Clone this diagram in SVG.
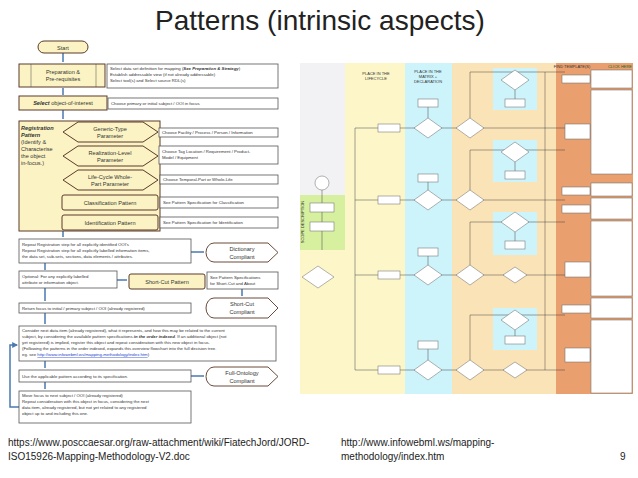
<svg xmlns="http://www.w3.org/2000/svg" width="638" height="478" viewBox="0 0 638 478">
<defs>
<style>
.t{font-family:"Liberation Sans",Arial,sans-serif;fill:#222}
.s{font-family:"Liberation Sans",Arial,sans-serif;font-size:4.3px;fill:#333}
.n{font-family:"Liberation Sans",Arial,sans-serif;font-size:5.6px;fill:#333;text-anchor:middle}
.r{font-family:"Liberation Sans",Arial,sans-serif;font-size:5.6px;fill:#333;text-anchor:start}
.y{fill:#fcf3c4;stroke:#5a3a2a;stroke-width:1}
.w{fill:#fff;stroke:#555;stroke-width:0.8}
.c{fill:#fff;stroke:#6a4a3a;stroke-width:1}
.l{stroke:#4a7ab0;stroke-width:1.5;fill:none}
.k{stroke:#444;stroke-width:0.5;fill:none}
.d{fill:#fff;stroke:#666;stroke-width:0.5}
</style>
<marker id="a" viewBox="0 0 10 10" refX="8" refY="5" markerWidth="4" markerHeight="4" orient="auto"><path d="M0,0L10,5L0,10z" fill="#4a7ab0"/></marker>
</defs>
<rect width="638" height="478" fill="#fff"/>
<text class="t" x="320" y="30" font-size="28" text-anchor="middle">Patterns (intrinsic aspects)</text>

<g id="connectors">
<path class="l" d="M63 53V62M63 88V95M63 110V119M63 231V237M45 263V270M45 288V301M45 313V324M45 361V368M45 382V389M191 252H204M117 280H127M242 289V296M191 376H204M19 407H10V345H17" marker-end="url(#a)"/>
<path class="l" d="M110 142V146M110 166V170M110 190V195M110 210V215"/>
</g>

<g id="start"><rect class="y" x="38" y="41" width="50" height="12" rx="6"/><text class="n" x="63" y="49.5">Start</text></g>
<g id="prep"><rect class="y" x="19" y="64" width="86" height="23"/><path class="k" d="M31 64V87M96 64V87" stroke="#5a3a2a"/><text class="n" x="63" y="74">Preparation &amp;</text><text class="n" x="63" y="81">Pre-requisites</text>
<rect class="w" x="107" y="64" width="171" height="24"/><text class="s" x="110" y="70">Select data set definition for mapping (<tspan font-weight="bold" font-style="italic">See Preparation &amp; Strategy</tspan>)</text><text class="s" x="110" y="76">Establish addressable view (if not already addressable)</text><text class="s" x="110" y="82">Select tool(s) and Select source RDL(s)</text></g>
<g id="select"><rect class="y" x="19" y="96" width="88" height="14"/><text class="n" x="63" y="105"><tspan font-weight="bold" font-style="italic">Select</tspan> object-of-interest</text>
<rect class="w" x="108" y="98" width="170" height="11"/><text class="s" x="111" y="105">Choose primary or initial subject / OOI in focus</text></g>
<g id="registration"><rect class="y" x="19" y="121" width="141" height="110"/>
<text class="r" x="21" y="130" font-weight="bold" font-style="italic">Registration</text><text class="r" x="21" y="137" font-weight="bold" font-style="italic">Pattern</text><text class="r" x="21" y="144">(Identify &amp;</text><text class="r" x="21" y="151">Characterise</text><text class="r" x="21" y="158">the object</text><text class="r" x="21" y="165">in-focus.)</text></g>
<g id="generic"><polygon class="y" points="63,132 78,122 143,122 158,132 143,142 78,142"/><text class="n" x="110" y="131">Generic-Type</text><text class="n" x="110" y="138">Parameter</text>
<rect class="w" x="159" y="128" width="119" height="9"/><text class="s" x="162" y="134">Choose Facility / Process / Person / Information</text></g>
<g id="realization"><polygon class="y" points="63,156 78,146 143,146 158,156 143,166 78,166"/><text class="n" x="110" y="155">Realization-Level</text><text class="n" x="110" y="162">Parameter</text>
<rect class="w" x="159" y="146" width="119" height="18"/><text class="s" x="162" y="153">Choose Tag Location / Requirement / Product-</text><text class="s" x="162" y="159">Model / Equipment</text></g>
<g id="lifecycle"><polygon class="y" points="63,180 78,170 143,170 158,180 143,190 78,190"/><text class="n" x="110" y="179">Life-Cycle Whole-</text><text class="n" x="110" y="186">Part Parameter</text>
<rect class="w" x="160" y="175" width="118" height="9"/><text class="s" x="163" y="181">Choose Temporal-Part or Whole-Life</text></g>
<g id="classification"><rect class="y" x="62" y="195" width="96" height="15" rx="2"/><text class="n" x="110" y="204.5">Classification Pattern</text>
<rect class="w" x="160" y="197" width="118" height="11"/><text class="s" x="163" y="204">See Pattern Specification for Classification</text></g>
<g id="identification"><rect class="y" x="62" y="215" width="96" height="15" rx="2"/><text class="n" x="110" y="224.5">Identification Pattern</text>
<rect class="w" x="160" y="217" width="118" height="11"/><text class="s" x="163" y="224">See Pattern Specification for Identification</text></g>
<g id="repeat"><rect class="w" x="19" y="239" width="172" height="24"/><text class="s" x="22" y="246">Repeat Registration step for all explicitly identified OOI's</text><text class="s" x="22" y="252">Repeat Registration step for all explicitly labelled information items,</text><text class="s" x="22" y="258">the data set, sub-sets, sections, data elements / attributes.</text></g>
<g id="dictionary"><path class="c" d="M214 243H268L278 252.5L268 262H214A8 9.5 0 0 1 214 243Z"/><text class="n" x="242" y="251">Dictionary</text><text class="n" x="242" y="259">Compliant</text></g>
<g id="optional"><rect class="w" x="19" y="271" width="98" height="17"/><text class="s" x="22" y="278">Optional: For any explicitly labelled</text><text class="s" x="22" y="284">attribute or information object.</text></g>
<g id="shortcut"><rect class="y" x="129" y="274" width="76" height="15" rx="2"/><text class="n" x="167" y="283.5">Short-Cut Pattern</text>
<rect class="w" x="207" y="272" width="71" height="17"/><text class="s" x="210" y="279">See Pattern Specifications</text><text class="s" x="210" y="285">for Short-Cut and About</text></g>
<g id="shortcut-compliant"><path class="c" d="M214 298H268L278 308L268 318H214A8 10 0 0 1 214 298Z"/><text class="n" x="242" y="306">Short-Cut</text><text class="n" x="242" y="314">Compliant</text></g>
<g id="return"><rect class="w" x="19" y="303" width="172" height="10"/><text class="s" x="22" y="309.5">Return focus to initial / primary subject / OOI (already registered)</text></g>
<g id="consider"><rect class="w" x="19" y="326" width="257" height="35"/><text class="s" x="22" y="332">Consider next data item (already registered), what it represents, and how this may be related to the current</text><text class="s" x="22" y="338">subject, by considering the available pattern specifications <tspan font-weight="bold" font-style="italic">in the order indexed</tspan>. If an additional object (not</text><text class="s" x="22" y="344">yet registered) is implied, register this object and repeat consideration with this new object in focus.</text><text class="s" x="22" y="350">(Following the patterns in the order indexed, expands this overview flowchart into the full decision tree.</text><text class="s" x="22" y="356">eg. see <tspan fill="#2244cc" text-decoration="underline">http://www.infowebml.ws/mapping-methodology/index.htm</tspan>)</text></g>
<g id="use"><rect class="w" x="19" y="370" width="172" height="12"/><text class="s" x="22" y="377.5">Use the applicable pattern according to its specification.</text></g>
<g id="full-ontology"><path class="c" d="M214 367H268L278 376.5L268 386H214A8 9.5 0 0 1 214 367Z"/><text class="n" x="242" y="375">Full-Ontology</text><text class="n" x="242" y="383">Compliant</text></g>
<g id="move"><rect class="w" x="19" y="391" width="172" height="32"/><text class="s" x="22" y="397">Move focus to next subject / OOI (already registered)</text><text class="s" x="22" y="403">Repeat consideration with this object in focus, considering the next</text><text class="s" x="22" y="409">data item, already registered, but not yet related to any registered</text><text class="s" x="22" y="415">object up to and including this one.</text></g>

<g id="right-diagram">
<rect x="300" y="63" width="45" height="132" fill="#f2f2f4"/>
<rect x="345" y="63" width="60" height="331" fill="#fdf6c8"/>
<rect x="300" y="250" width="45" height="144" fill="#fdf6c8"/>
<rect x="300" y="195" width="45" height="55" fill="#d6f0a0"/>
<rect x="405" y="63" width="47" height="331" fill="#cdf3fb"/>
<rect x="452" y="63" width="104" height="331" fill="#fbe3b8"/>
<rect x="556" y="63" width="77" height="331" fill="#e9a06e"/>
<rect x="493" y="68" width="44" height="42" fill="#cdf3fb"/><rect x="493" y="140" width="44" height="42" fill="#cdf3fb"/><rect x="493" y="212" width="44" height="43" fill="#cdf3fb"/><rect x="493" y="308" width="44" height="42" fill="#cdf3fb"/>
<g font-family="Liberation Sans,Arial,sans-serif" font-size="4" fill="#333" text-anchor="middle"><text x="376" y="75">PLACE IN THE</text><text x="376" y="80">LIFECYCLE</text><text x="428" y="73">PLACE IN THE</text><text x="428" y="78">MATRIX +</text><text x="428" y="83">DECLARATION</text><text x="572" y="68">FIND TEMPLATE(S)</text><text x="620" y="68" fill="#226622">CLICK HERE</text>
<text x="0" y="0" transform="translate(304 222) rotate(-90)">SCOPE DESCRIPTION</text></g>
<g class="k">
<path d="M355 128V370M355 128H378M355 200H378M355 275H378M355 370H378M400 128H418M400 200H418M400 275H418M400 370H418M438 128H460M438 200H460M438 275H460M438 370H460M480 128H565M480 200H565M480 275H505M480 370H505M470 118V72H565M470 190V150H565M470 265V222H565M470 360V315H565M525 275H565M525 370H565M428 118V103M428 190V178M428 265V252M428 360V345M515 90V103M515 162V175M515 232V245M515 330V340M545 72V370M322 190V250"/>
</g>
<g class="d">
<rect x="378" y="124" width="22" height="8"/><rect x="378" y="196" width="22" height="8"/><rect x="378" y="271" width="22" height="8"/><rect x="378" y="366" width="22" height="8"/>
<rect x="418" y="99" width="20" height="8"/><rect x="418" y="174" width="20" height="8"/><rect x="418" y="248" width="20" height="8"/><rect x="418" y="341" width="20" height="8"/>
<polygon points="428,118 442,128 428,138 414,128"/><polygon points="428,190 442,200 428,210 414,200"/><polygon points="428,265 442,275 428,285 414,275"/><polygon points="428,360 442,370 428,380 414,370"/>
<polygon points="470,118 484,128 470,138 456,128"/><polygon points="470,190 484,200 470,210 456,200"/><polygon points="470,265 484,275 470,285 456,275"/><polygon points="470,360 484,370 470,380 456,370"/>
<polygon points="515,70 529,80 515,90 501,80"/><polygon points="515,142 529,152 515,162 501,152"/><polygon points="515,212 529,222 515,232 501,222"/><polygon points="515,310 529,320 515,330 501,320"/>
<polygon points="515,267 527,275 515,283 503,275"/><polygon points="515,362 527,370 515,378 503,370"/>
<rect x="505" y="99" width="20" height="8"/><rect x="505" y="171" width="20" height="8"/><rect x="505" y="241" width="20" height="8"/><rect x="505" y="336" width="20" height="8"/>
<polygon points="318,266 334,277 318,288 302,277"/>
<circle cx="322" cy="183" r="7"/><rect x="310" y="203" width="24" height="9"/><rect x="310" y="222" width="24" height="9"/>
<rect x="562" y="75" width="28" height="8"/><rect x="565" y="124" width="25" height="15"/><rect x="562" y="187" width="28" height="8"/><rect x="562" y="205" width="28" height="8"/><rect x="565" y="262" width="25" height="15"/><rect x="562" y="305" width="28" height="8"/><rect x="565" y="348" width="25" height="14"/>
<rect x="591" y="70" width="41" height="18"/><rect x="591" y="90" width="41" height="84"/><rect x="591" y="183" width="41" height="13"/><rect x="591" y="198" width="41" height="21"/><rect x="591" y="221" width="41" height="75"/><rect x="591" y="298" width="41" height="20"/><rect x="591" y="320" width="41" height="73"/>
</g>
</g>

<text class="t" x="8" y="446" font-size="10">https://www.posccaesar.org/raw-attachment/wiki/FiatechJord/JORD-</text>
<text class="t" x="8" y="460" font-size="10">ISO15926-Mapping-Methodology-V2.doc</text>
<text class="t" x="341" y="446" font-size="10">http://www.infowebml.ws/mapping-</text>
<text class="t" x="341" y="460" font-size="10">methodology/index.htm</text>
<text class="t" x="620" y="460" font-size="10" fill="#777">9</text>
</svg>
